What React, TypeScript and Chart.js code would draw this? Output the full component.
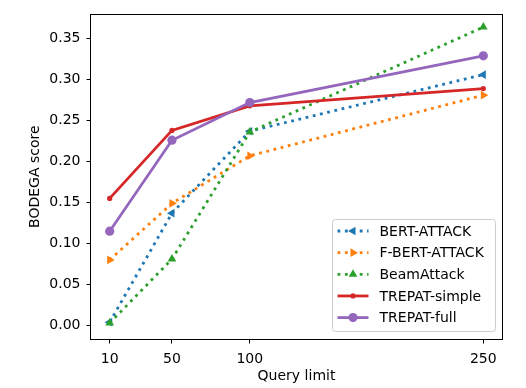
import React, { useEffect, useRef } from "react";
import { Chart, registerables } from "chart.js";

Chart.register(...registerables);

const queryLimits = [10, 50, 100, 250];
const xTickLabels = ["10", "50", "100", "250"];
const yTickValues = [0, 0.05, 0.1, 0.15, 0.2, 0.25, 0.3, 0.35];

const bertAttack = [0.004, 0.137, 0.237, 0.306];
const fBertAttack = [0.080, 0.149, 0.207, 0.281];
const beamAttack = [0.003, 0.081, 0.236, 0.364];
const trepatSimple = [0.155, 0.238, 0.268, 0.289];
const trepatFull = [0.115, 0.226, 0.272, 0.329];

const seriesNames = ["BERT-ATTACK", "F-BERT-ATTACK", "BeamAttack", "TREPAT-simple", "TREPAT-full"];
const seriesValues = [bertAttack, fBertAttack, beamAttack, trepatSimple, trepatFull];
const seriesColors = ["#1f77b4", "#ff7f0e", "#2ca02c", "#d62728", "#9467bd"];
const seriesMarkers = ["triangle", "triangle", "triangle", "circle", "circle"];
const seriesRotation = [-90, 90, 0, 0, 0];
const seriesRadius = [5, 5, 5, 2.6, 4.6];
const seriesDotted = [true, true, true, false, false];

const FONT = "DejaVu Sans";
const LW = 2.8;
const DASH = [2.8, 4.6];

function drawMarker(ctx: CanvasRenderingContext2D, style: string, x: number, y: number, r: number, rot: number, color: string) {
  ctx.save();
  ctx.fillStyle = color;
  ctx.setLineDash([]);
  ctx.beginPath();
  if (style === "circle") {
    ctx.arc(x, y, r, 0, Math.PI * 2);
  } else {
    let rad = (rot * Math.PI) / 180;
    ctx.moveTo(x + Math.sin(rad) * r, y - Math.cos(rad) * r);
    rad += (2 * Math.PI) / 3;
    ctx.lineTo(x + Math.sin(rad) * r, y - Math.cos(rad) * r);
    rad += (2 * Math.PI) / 3;
    ctx.lineTo(x + Math.sin(rad) * r, y - Math.cos(rad) * r);
    ctx.closePath();
  }
  ctx.fill();
  ctx.restore();
}

const framePlugin = {
  id: "frameAndLegend",
  afterDraw(chart: any) {
    const ctx = chart.ctx as CanvasRenderingContext2D;
    const a = chart.chartArea;
    ctx.save();
    ctx.strokeStyle = "#000";
    ctx.lineWidth = 1;
    ctx.setLineDash([]);
    ctx.strokeRect(Math.round(a.left) - 0.5, Math.round(a.top) + 0.5, Math.round(a.right - a.left) + 1, Math.round(a.bottom - a.top));
    // legend
    const bw = 163, bh = 112;
    const bx = Math.round(a.right) - 7 - bw + 0.5;
    const by = Math.round(a.bottom) - 8 - bh + 0.5;
    ctx.beginPath();
    const rr = 3;
    ctx.moveTo(bx + rr, by);
    ctx.lineTo(bx + bw - rr, by);
    ctx.arcTo(bx + bw, by, bx + bw, by + rr, rr);
    ctx.lineTo(bx + bw, by + bh - rr);
    ctx.arcTo(bx + bw, by + bh, bx + bw - rr, by + bh, rr);
    ctx.lineTo(bx + rr, by + bh);
    ctx.arcTo(bx, by + bh, bx, by + bh - rr, rr);
    ctx.lineTo(bx, by + rr);
    ctx.arcTo(bx, by, bx + rr, by, rr);
    ctx.closePath();
    ctx.fillStyle = "rgba(255,255,255,0.8)";
    ctx.fill();
    ctx.strokeStyle = "#cccccc";
    ctx.stroke();
    ctx.font = `14px "${FONT}"`;
    ctx.textBaseline = "middle";
    ctx.textAlign = "left";
    for (let i = 0; i < seriesNames.length; i++) {
      const ly = by + 11.5 + i * 21.65;
      const lx0 = bx + 5;
      const lx1 = bx + 36;
      ctx.beginPath();
      ctx.strokeStyle = seriesColors[i];
      ctx.lineWidth = LW;
      ctx.lineCap = "butt";
      ctx.setLineDash(seriesDotted[i] ? DASH : []);
      ctx.moveTo(lx0, ly);
      ctx.lineTo(lx1, ly);
      ctx.stroke();
      drawMarker(ctx, seriesMarkers[i], (lx0 + lx1) / 2, ly, seriesRadius[i], seriesRotation[i], seriesColors[i]);
      ctx.fillStyle = "#000";
      ctx.fillText(seriesNames[i], bx + 47, ly + 1);
    }
    ctx.restore();
  },
};

export default function App() {
  const ref = useRef<HTMLCanvasElement | null>(null);
  useEffect(() => {
    document.body.style.margin = "0";
    const canvas = ref.current;
    if (!canvas) return;
    const datasets = seriesNames.map((name, i) => ({
      label: name,
      data: queryLimits.map((q, j) => ({ x: q, y: seriesValues[i][j] })),
      borderColor: seriesColors[i],
      backgroundColor: seriesColors[i],
      borderWidth: LW,
      borderDash: seriesDotted[i] ? DASH : [],
      borderCapStyle: "butt" as const,
      pointStyle: seriesMarkers[i],
      rotation: seriesRotation[i],
      pointRadius: seriesRadius[i],
      pointBorderWidth: 0,
      pointBackgroundColor: seriesColors[i],
      tension: 0,
      fill: false,
      order: seriesNames.length - i,
    }));
    const tickFont = { family: FONT, size: 14 };
    const chart = new Chart(canvas, {
      type: "line",
      data: { datasets },
      plugins: [framePlugin],
      options: {
        responsive: false,
        animation: false,
        devicePixelRatio: 1,
        layout: { padding: { left: 27, right: 24, top: 10, bottom: 0 } },
        plugins: { legend: { display: false }, tooltip: { enabled: false } },
        scales: {
          x: {
            type: "linear",
            min: -2,
            max: 262,
            afterBuildTicks: (s: any) => {
              s.ticks = queryLimits.map((v) => ({ value: v }));
            },
            afterFit: (s: any) => {
              s.height = 49;
            },
            ticks: {
              autoSkip: false,
              maxRotation: 0,
              color: "#000",
              font: tickFont,
              padding: 7,
              callback: (v: any) => xTickLabels[queryLimits.indexOf(Number(v))] ?? String(v),
            },
            grid: { drawOnChartArea: false, drawTicks: true, tickLength: 4.5, color: "#000" },
            border: { display: false },
            title: { display: true, text: "Query limit", color: "#000", font: tickFont, padding: { top: 2, bottom: 3 } },
          },
          y: {
            type: "linear",
            min: -0.0165,
            max: 0.3795,
            afterBuildTicks: (s: any) => {
              s.ticks = yTickValues.map((v) => ({ value: v }));
            },
            afterFit: (s: any) => {
              s.width = 64;
            },
            ticks: {
              color: "#000",
              font: tickFont,
              padding: 6,
              callback: (v: any) => Number(v).toFixed(2),
            },
            grid: { drawOnChartArea: false, drawTicks: true, tickLength: 4.5, color: "#000" },
            border: { display: false },
            title: { display: true, text: "BODEGA score", color: "#000", font: tickFont, padding: { top: 0, bottom: 4 } },
          },
        },
      },
    } as any);
    return () => chart.destroy();
  }, []);
  return <canvas ref={ref} width={526} height={388} style={{ display: "block" }} />;
}
